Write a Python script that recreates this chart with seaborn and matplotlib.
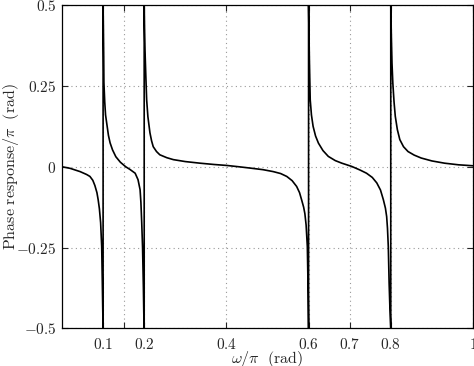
import matplotlib
matplotlib.use("Agg")
import matplotlib.pyplot as plt
import pandas as pd
import seaborn as sns

# values (omega/pi, phase/pi); each branch ends at -0.5 and the next starts at +0.5
omega = [0.0, 0.02, 0.044, 0.06, 0.068, 0.075, 0.080, 0.085, 0.088, 0.091, 0.094, 0.0966, 0.098, 0.099, 0.1,
         0.1, 0.1008, 0.1015, 0.102, 0.104, 0.106, 0.110, 0.113, 0.117, 0.123, 0.131, 0.142, 0.155,
         0.165, 0.178, 0.185, 0.190, 0.192, 0.194, 0.196, 0.198, 0.199, 0.2,
         0.2, 0.2008, 0.2019, 0.204, 0.206, 0.209, 0.214, 0.218, 0.222, 0.230, 0.238, 0.255, 0.271,
         0.30, 0.336, 0.37, 0.401, 0.43, 0.457, 0.489, 0.514, 0.532, 0.547, 0.560, 0.571, 0.578,
         0.583, 0.588, 0.591, 0.594, 0.597, 0.599, 0.6,
         0.6, 0.6008, 0.602, 0.604, 0.607, 0.611, 0.617, 0.624, 0.635, 0.648, 0.665, 0.681, 0.705,
         0.725, 0.741, 0.755, 0.766, 0.775, 0.782, 0.787, 0.790, 0.792, 0.794, 0.796, 0.798, 0.8,
         0.8, 0.8015, 0.803, 0.805, 0.808, 0.811, 0.816, 0.822, 0.831, 0.842, 0.857, 0.874, 0.90,
         0.931, 0.965, 1.0]
phase = [0.0, -0.005, -0.015, -0.024, -0.030, -0.042, -0.058, -0.080, -0.102, -0.130, -0.173, -0.247, -0.35, -0.43, -0.5,
         0.5, 0.42, 0.34, 0.26, 0.20, 0.16, 0.124, 0.097, 0.074, 0.052, 0.031, 0.014, 0.0,
         -0.008, -0.020, -0.040, -0.071, -0.11, -0.173, -0.248, -0.37, -0.45, -0.5,
         0.5, 0.43, 0.362, 0.28, 0.207, 0.155, 0.105, 0.080, 0.062, 0.047, 0.037, 0.028, 0.022,
         0.016, 0.011, 0.007, 0.004, 0.0, -0.004, -0.009, -0.015, -0.021, -0.030, -0.043, -0.061, -0.080,
         -0.102, -0.125, -0.145, -0.18, -0.247, -0.39, -0.5,
         0.5, 0.43, 0.33, 0.207, 0.16, 0.125, 0.095, 0.073, 0.050, 0.032, 0.019, 0.011, 0.001,
         -0.010, -0.020, -0.033, -0.050, -0.072, -0.102, -0.128, -0.154, -0.19, -0.247, -0.36, -0.44, -0.5,
         0.5, 0.40, 0.32, 0.259, 0.20, 0.156, 0.115, 0.084, 0.062, 0.047, 0.036, 0.027, 0.018,
         0.011, 0.006, 0.003]

xticks = [0.1, 0.15, 0.2, 0.4, 0.6, 0.7, 0.8, 1.0]
xticklabels = ["$0.1$", "", "$0.2$", "$0.4$", "$0.6$", "$0.7$", "$0.8$", "$1$"]
yticks = [-0.5, -0.25, 0, 0.25, 0.5]
yticklabels = ["$-0.5$", "$-0.25$", "$0$", "$0.25$", "$0.5$"]

df = pd.DataFrame({"omega": omega, "phase": phase})

sns.set_style("ticks")
plt.rcParams["mathtext.fontset"] = "cm"
plt.rcParams["font.family"] = ["DejaVu Serif"]

fig = plt.figure(figsize=(4.74, 3.66), dpi=100)
ax = fig.add_axes([0.1308, 0.1025, 0.867, 0.8838])

sns.lineplot(data=df, x="omega", y="phase", sort=False, estimator=None,
             color="black", linewidth=1.2, ax=ax)

ax.set_xlim(0, 1)
ax.set_ylim(-0.5, 0.5)
ax.set_xticks(xticks)
ax.set_xticklabels(xticklabels, fontsize=11)
ax.set_yticks(yticks)
ax.set_yticklabels(yticklabels, fontsize=11)
ax.grid(True, linestyle=(0, (1, 3)), color="#999999", linewidth=0.8)
ax.tick_params(direction="in", top=True, right=True, length=4, width=0.8)
ax.tick_params(axis="x", pad=6)
ax.tick_params(axis="y", pad=4)
for s in ax.spines.values():
    s.set_visible(True)
    s.set_linewidth(0.9)
    s.set_color("black")

ax.set_xlabel(r"$\omega/\pi\ \ \mathrm{(rad)}$", fontsize=11.5)
ax.set_ylabel(r"$\mathrm{Phase\ response}/\pi\ \ \mathrm{(rad)}$", fontsize=11.5)
ax.xaxis.set_label_coords(0.5, -0.062)
ax.yaxis.set_label_coords(-0.099, 0.5)

fig.savefig("out.png", dpi=100)
